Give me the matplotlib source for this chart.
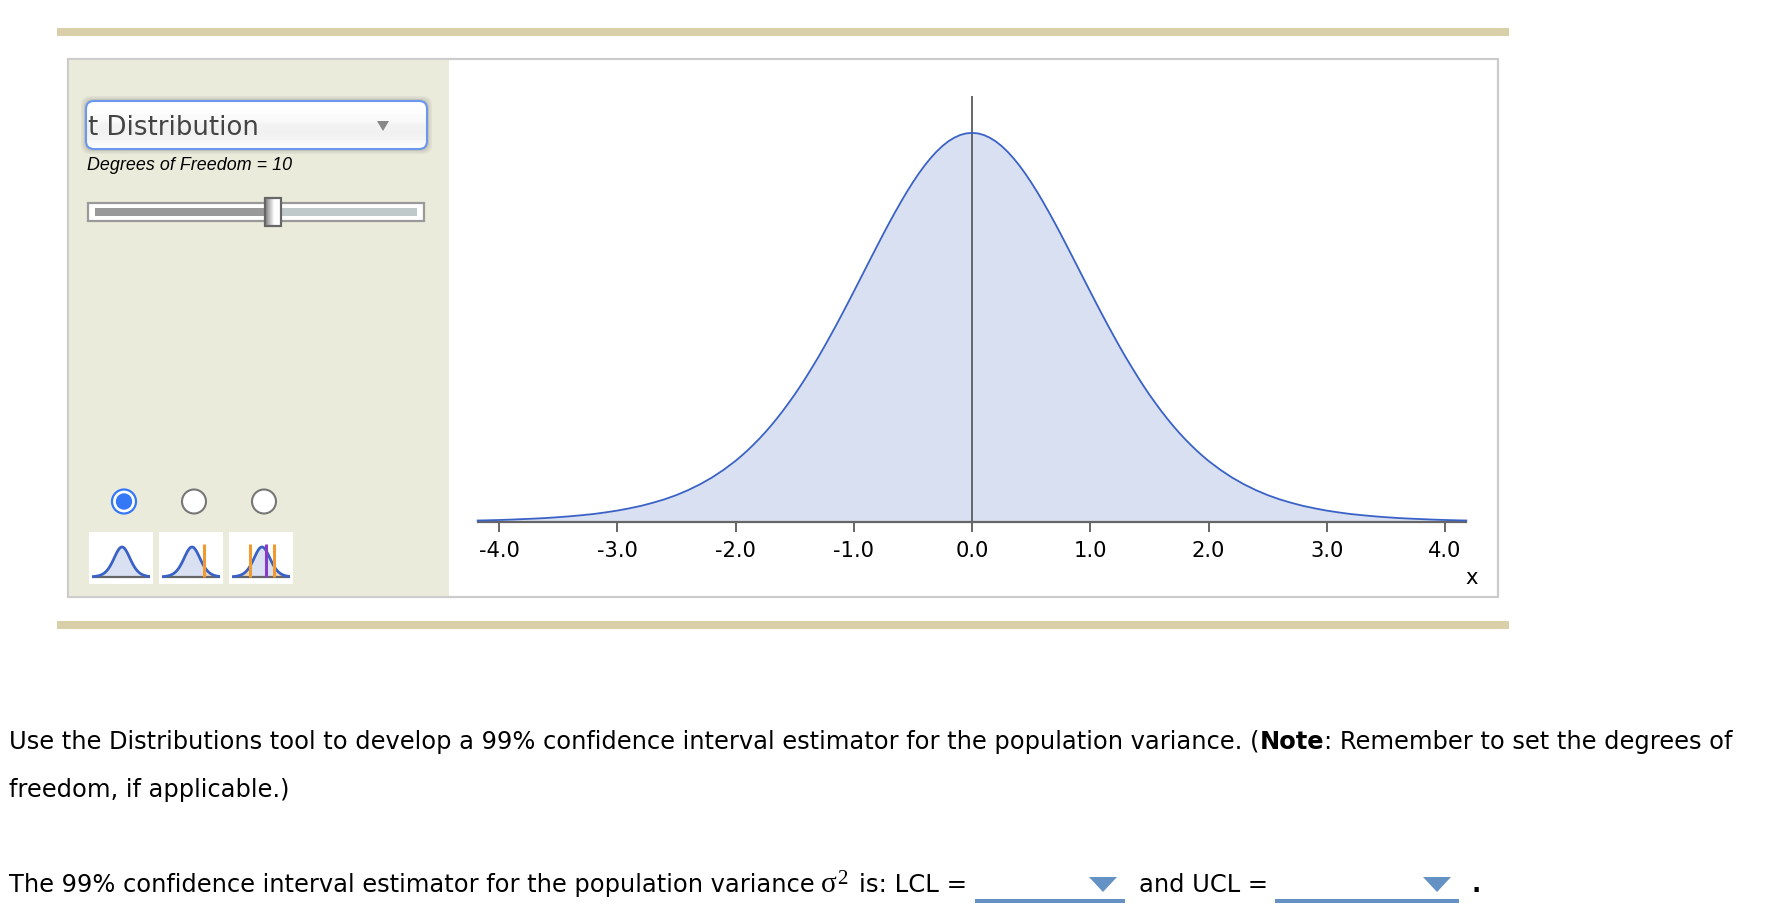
import numpy as np
import matplotlib
matplotlib.use("Agg")
import matplotlib.pyplot as plt
from matplotlib.patches import Rectangle, FancyBboxPatch, Circle, Polygon

W, H = 1769, 918

# ---- data
x_right = [0.0, 0.05, 0.1, 0.15, 0.2, 0.25, 0.3, 0.35, 0.4, 0.45, 0.5, 0.55, 0.6, 0.65, 0.7, 0.75, 0.8, 0.85, 0.9,
           0.95, 1.0, 1.05, 1.1, 1.15, 1.2, 1.25, 1.3, 1.35, 1.4, 1.45, 1.5, 1.55, 1.6, 1.65, 1.7, 1.75, 1.8, 1.85,
           1.9, 1.95, 2.0, 2.1, 2.2, 2.3, 2.4, 2.5, 2.6, 2.7, 2.8, 2.9, 3.0, 3.1, 3.2, 3.3, 3.4, 3.5, 3.6, 3.7,
           3.8, 3.9, 4.0, 4.1, 4.18]
density_right = [.3891, .3886, .3870, .3843, .3807, .3760, .3704, .3639, .3566, .3485, .3397, .3303, .3203, .3099,
                 .2991, .2880, .2766, .2651, .2535, .2419, .2304, .2189, .2076, .1965, .1857, .1751, .1648, .1550,
                 .1454, .1362, .1274, .1191, .1111, .1035, .0963, .0895, .0831, .0771, .0714, .0661, .0611, .0522,
                 .0444, .0377, .0319, .0269, .0227, .0192, .0161, .0136, .0114, .0096, .0080, .0068, .0057, .0048,
                 .0040, .0034, .0029, .0024, .0020, .0017, .0015]
x_vals = [-v for v in x_right[:0:-1]] + x_right
density = density_right[:0:-1] + density_right
tick_values = [-4.0, -3.0, -2.0, -1.0, 0.0, 1.0, 2.0, 3.0, 4.0]
tick_labels = ["-4.0", "-3.0", "-2.0", "-1.0", "0.0", "1.0", "2.0", "3.0", "4.0"]
icon_orange = [[], [1.43], [-1.43, 1.43]]
icon_purple = [[], [], [0.48]]

BLUE = "#3a62c6"
FILL = "#d9e0f2"
GREY = "#666666"
TAN = "#d9cfa8"

fig = plt.figure(figsize=(W / 100, H / 100), dpi=100, facecolor="white")


def px_axes(x0, y0, x1, y1, **kw):
    return fig.add_axes([x0 / W, 1 - y1 / H, (x1 - x0) / W, (y1 - y0) / H], **kw)


ui = px_axes(0, 0, W, H)
ui.set_xlim(0, W)
ui.set_ylim(H, 0)
ui.axis("off")


def rect(x0, y0, x1, y1, fc, ec="none", lw=0, z=1):
    ui.add_patch(Rectangle((x0, y0), x1 - x0, y1 - y0, facecolor=fc, edgecolor=ec, linewidth=lw, zorder=z))


def gradient(values, extent, clip, horizontal=False, z=3):
    arr = np.array(values, dtype=float).reshape((1, -1) if horizontal else (-1, 1))
    im = ui.imshow(arr, cmap="gray", vmin=0, vmax=1, extent=extent, aspect="auto", zorder=z, interpolation="bilinear")
    im.set_clip_path(clip)


# tan rules
rect(57, 28, 1509, 36, TAN)
rect(57, 620.5, 1509, 628.5, TAN)

# panel
rect(68, 59, 1498, 597, "white", ec="#cccccc", lw=1.6, z=1)
rect(69, 60, 449, 596, "#ebebdc", z=1.5)

# select box
for grow, alpha in [(5, .04), (3.5, .05), (2, .08)]:
    ui.add_patch(FancyBboxPatch((86 - grow, 101 - grow), 341 + 2 * grow, 48 + 2 * grow,
                                boxstyle="round,pad=0,rounding_size=9", fc="black", ec="none", alpha=alpha, zorder=2))
box = FancyBboxPatch((86, 101), 341, 48, boxstyle="round,pad=0,rounding_size=8", fc="white", ec="none", zorder=2.5)
ui.add_patch(box)
gradient([1, .995, .99, .98, .975, .95, .945, .945, .95, .97, 1], (86, 427, 149, 101), box)
ui.add_patch(FancyBboxPatch((86, 101), 341, 48, boxstyle="round,pad=0,rounding_size=8", fc="none",
                            ec="#6b97ee", lw=1.5, zorder=4))
ui.text(88, 128, "t Distribution", fontsize=18.75, color="#444444", family="DejaVu Sans", va="center", zorder=5)
ui.add_patch(Polygon([(377, 121), (389, 121), (383, 131)], fc="#888888", ec="none", zorder=5))
ui.text(87, 165, "Degrees of Freedom = 10", fontsize=12.9, style="italic", family="Liberation Sans",
        va="center", color="black", zorder=5)

# slider
rect(88, 203, 424, 221, "white", ec="#999999", lw=1.6, z=3)
rect(95, 208, 265, 216, "#999999", z=4)
rect(265, 208, 417, 216, "#c0c9c9", z=4)
th = Rectangle((265, 198), 16, 28, fc="white", ec="none", zorder=5)
ui.add_patch(th)
gradient([.55, .7, .85, 1, 1, 1], (265, 281, 226, 198), th, horizontal=True, z=5)
rect(265, 198, 281, 226, "none", ec="#666666", lw=1.6, z=6)

# radios
for i, cx in enumerate([124, 194, 264]):
    if i == 0:
        ui.add_patch(Circle((cx, 501.5), 12, fc="white", ec="#3478f6", lw=1.6, zorder=3))
        ui.add_patch(Circle((cx, 501.5), 8.2, fc="#3478f6", ec="none", zorder=4))
    else:
        ui.add_patch(Circle((cx, 501.5), 12, fc="white", ec="#777777", lw=1.5, zorder=3))

# icons
x_arr = np.array(x_vals)
d_arr = np.array(density)
for i, (x0, c) in enumerate(zip([89, 159, 229], [122, 192, 262])):
    rect(x0, 532, x0 + 64, 584, "white", z=2)
    a = px_axes(c - 30, 540, c + 28, 580)
    a.patch.set_alpha(0)
    a.set_xlim(-30 / 8.4, 28 / 8.4)
    a.set_ylim(-3 / 77.1, 37 / 77.1)
    a.axis("off")
    a.fill_between(x_vals, density, 0, color=FILL, lw=0, zorder=1)
    if icon_orange[i]:
        v = max(icon_orange[i])
        a.fill_between(x_arr, d_arr, 0, where=x_arr >= v, color="#efd9b8", lw=0, zorder=1.5)
        if len(icon_orange[i]) > 1:
            a.fill_between(x_arr, d_arr, 0, where=x_arr <= min(icon_orange[i]), color="#efd9b8", lw=0, zorder=1.5)
    a.plot([-4.2, 4.2], [0, 0], color=GREY, lw=1.6, zorder=2, solid_capstyle="butt")
    a.plot(x_vals, density, color=BLUE, lw=2.0, zorder=3)
    for v in icon_orange[i]:
        a.plot([v, v], [0, 0.428], color="#f09a30", lw=2.2, solid_capstyle="butt", zorder=4)
    for v in icon_purple[i]:
        a.plot([v, v], [0, 0.428], color="#8a3bc4", lw=2.2, solid_capstyle="butt", zorder=5)

# main chart
ax = px_axes(972 - 4.18 * 118.25, 96, 972 + 4.18 * 118.25, 522)
ax.patch.set_alpha(0)
ax.set_xlim(-4.18, 4.18)
ax.set_ylim(0, 0.426)
ax.fill_between(x_vals, density, 0, color=FILL, lw=0, zorder=1)
ax.axvline(0, color=GREY, lw=1.4, zorder=3)
ax.plot(x_vals, density, color=BLUE, lw=1.3, zorder=4, clip_on=False)
for s in ["top", "left", "right"]:
    ax.spines[s].set_visible(False)
ax.spines["bottom"].set_color(GREY)
ax.spines["bottom"].set_linewidth(1.6)
ax.spines["bottom"].set_zorder(2)
ax.set_yticks([])
ax.set_xticks(tick_values)
ax.set_xticklabels(tick_labels, family="DejaVu Sans", fontsize=15.2)
ax.tick_params(axis="x", length=7, width=1.4, color=GREY, pad=6.5, labelcolor="black")
ax.set_xlabel("x", family="DejaVu Sans", fontsize=15.2, color="black")
ax.xaxis.set_label_coords((1472 - (972 - 4.18 * 118.25)) / (2 * 4.18 * 118.25), -46 / 426)

# text below the chart
renderer = fig.canvas.get_renderer()
FS = 17.4


def flow(x, y, parts):
    for s, kw in parts:
        t = ui.text(x, y, s, fontsize=FS, family="DejaVu Sans", weight=kw.get("w", "normal"),
                    color="black", va="baseline", zorder=5)
        x = t.get_window_extent(renderer).x1
    return x


flow(9, 749, [("Use the Distributions tool to develop a 99% confidence interval estimator for the population variance. (", {}),
              ("Note", {"w": "bold"}),
              (": Remember to set the degrees of", {})])
flow(9, 797, [("freedom, if applicable.)", {})])
flow(9, 892, [("The 99% confidence interval estimator for the population variance", {})])
ui.text(821, 892, "σ", fontsize=21, family="Liberation Serif", color="black", va="baseline", zorder=5)
ui.text(837, 884, "2", fontsize=15, family="Liberation Serif", color="black", va="baseline", zorder=5)
ui.text(859, 892, "is: LCL =", fontsize=17.6, family="DejaVu Sans", color="black", va="baseline", zorder=5)
ui.text(1139, 892, "and UCL =", fontsize=FS, family="DejaVu Sans", color="black", va="baseline", zorder=5)
ui.text(1471, 892, ".", fontsize=FS, family="DejaVu Sans", color="black", weight="bold", va="baseline", zorder=5)

# answer drop-downs
for x0, x1, t0 in [(975, 1125, 1089), (1275, 1459, 1423)]:
    rect(x0, 899, x1, 903, "#6592c4", z=3)
    ui.add_patch(Polygon([(t0, 877), (t0 + 28, 877), (t0 + 14, 892)], fc="#6592c4", ec="none", zorder=3))

ui.set_xlim(0, W)
ui.set_ylim(H, 0)
fig.savefig("out.png", dpi=100, facecolor="white")
